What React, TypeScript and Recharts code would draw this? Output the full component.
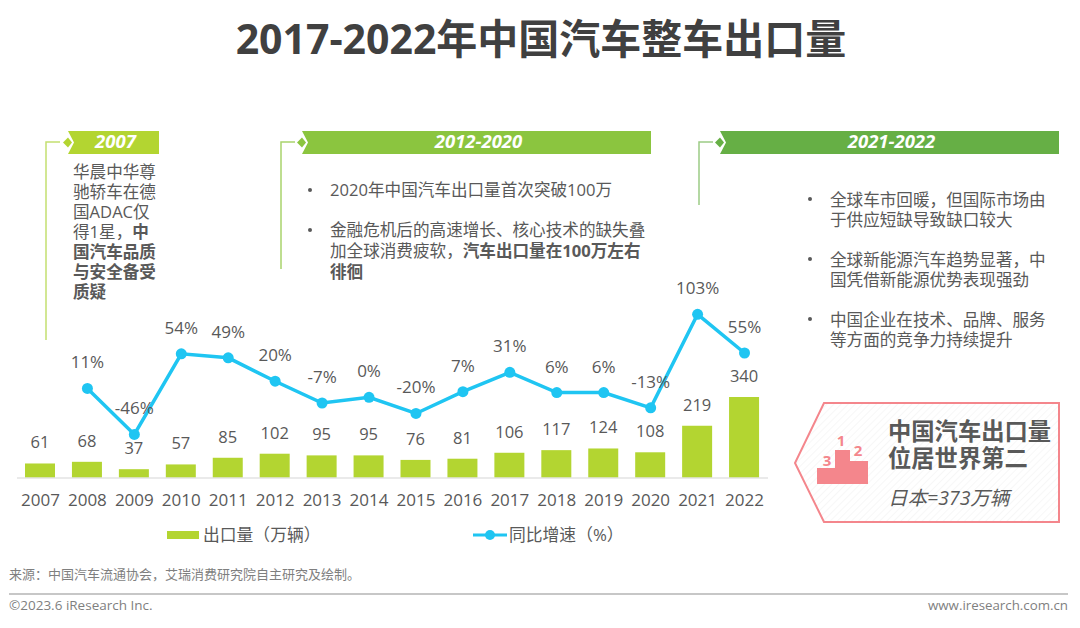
import React from 'react';
import { ComposedChart, Bar, Line, XAxis, YAxis, LabelList } from 'recharts';

const years = ['2007', '2008', '2009', '2010', '2011', '2012', '2013', '2014', '2015', '2016', '2017', '2018', '2019', '2020', '2021', '2022'];
const exportVolume = [61, 68, 37, 57, 85, 102, 95, 95, 76, 81, 106, 117, 124, 108, 219, 340];
const growthRate = [null, 11, -46, 54, 49, 20, -7, 0, -20, 7, 31, 6, 6, -13, 103, 55];

const chartData = years.map((year, i) => ({ year, volume: exportVolume[i], growth: growthRate[i] }));

const FONT = '"Open Sans", "Noto Sans CJK SC", sans-serif';
const TEXT = '#595959';
const BAR = '#B3D531';
const LINE = '#1FC5F2';

function Txt({ x, y, size = 16.6, bold, italic, color = TEXT, right, children }: any) {
  // y is the vertical centre of the line
  const h = Math.round(size * 1.15);
  return (
    <div
      style={{
        position: 'absolute',
        ...(right !== undefined ? { right } : { left: x }),
        top: y - h / 2,
        height: h,
        lineHeight: `${h}px`,
        fontSize: size,
        fontWeight: bold ? 700 : 400,
        fontStyle: italic ? 'italic' : 'normal',
        color,
        whiteSpace: 'nowrap',
      }}
    >
      {children}
    </div>
  );
}

function Banner({ x1, x2, fill, line, lineX, lineEnd, label }: any) {
  return (
    <g>
      <polyline points={`${lineX + 14},142 ${lineX},142 ${lineX},${lineEnd}`} fill="none" stroke={line} strokeWidth={1.5} />
      <polygon points={`${x1},131 ${x2},131 ${x2},154 ${x1},154 ${x1 + 6},142.5`} fill={fill} />
      <polygon points={`${x1 - 5},142.5 ${x1},137.5 ${x1 + 4},142.5 ${x1},147.5`} fill={fill} />
      <text
        x={(x1 + x2) / 2 + 2}
        y={148}
        textAnchor="middle"
        fill="#fff"
        fontSize={18.5}
        fontWeight={700}
        fontStyle="italic"
        fontFamily={FONT}
      >
        {label}
      </text>
    </g>
  );
}

function Bullet({ x, y }: any) {
  return <div style={{ position: 'absolute', left: x - 2, top: y - 2, width: 4, height: 4, borderRadius: 2, background: TEXT }} />;
}

export default function App() {
  return (
    <div style={{ position: 'absolute', left: 0, top: 0, width: 1080, height: 628, background: '#fff', overflow: 'hidden', fontFamily: FONT }}>
      <svg width={1080} height={628} style={{ position: 'absolute', left: 0, top: 0 }}>
        <defs>
          <pattern id="hatch" width="5" height="5" patternUnits="userSpaceOnUse" patternTransform="rotate(-45)">
            <line x1="0" y1="0" x2="5" y2="0" stroke="#f0f0f0" strokeWidth="1" />
          </pattern>
        </defs>
        <Banner x1={68} x2={159} fill="#B3D531" line="#C4E070" lineX={46} lineEnd={340} label="2007" />
        <Banner x1={302} x2={651} fill="#8BC53F" line="#A9D46C" lineX={281} lineEnd={269} label="2012-2020" />
        <Banner x1={720} x2={1059} fill="#66AF45" line="#9CCB85" lineX={699} lineEnd={205} label="2021-2022" />

        <polygon points="824,403 1059,403 1059,522 824,522 795,463" fill="url(#hatch)" stroke="#F4868C" strokeWidth={2} />
        <polygon points="817,484 817,468 835,468 835,450 850,450 850,461 868,461 868,484" fill="#F4868C" />
        <text x={841} y={446} textAnchor="middle" fill="#F4868C" fontSize={15} fontWeight={700} fontFamily={FONT}>1</text>
        <text x={858} y={456} textAnchor="middle" fill="#F4868C" fontSize={15} fontWeight={700} fontFamily={FONT}>2</text>
        <text x={827} y={466} textAnchor="middle" fill="#F4868C" fontSize={15} fontWeight={700} fontFamily={FONT}>3</text>

        <line x1={9} x2={1068} y1={594} y2={594} stroke="#b5b5b5" strokeWidth={1.5} />
      </svg>

      <div style={{ position: 'absolute', left: 1, width: 1080, top: 8, height: 60, lineHeight: '60px', textAlign: 'center', fontSize: 41, fontWeight: 700, color: '#404040' }}>
        2017-2022年中国汽车整车出口量
      </div>

      <Txt x={73} y={171}>华晨中华尊</Txt>
      <Txt x={73} y={191}>驰轿车在德</Txt>
      <Txt x={73} y={211}>国ADAC仅</Txt>
      <Txt x={73} y={231}>得1星，<b>中</b></Txt>
      <Txt x={73} y={251} bold>国汽车品质</Txt>
      <Txt x={73} y={271} bold>与安全备受</Txt>
      <Txt x={73} y={291} bold>质疑</Txt>

      <Bullet x={310} y={190} />
      <Txt x={330} y={189}>2020年中国汽车出口量首次突破100万</Txt>
      <Bullet x={310} y={230} />
      <Txt x={330} y={229}>金融危机后的高速增长、核心技术的缺失叠</Txt>
      <Txt x={330} y={250}>加全球消费疲软，<b>汽车出口量在100万左右</b></Txt>
      <Txt x={330} y={271} bold>徘徊</Txt>

      <Bullet x={810} y={199} />
      <Txt x={830} y={199}>全球车市回暖，但国际市场由</Txt>
      <Txt x={830} y={219}>于供应短缺导致缺口较大</Txt>
      <Bullet x={810} y={259} />
      <Txt x={830} y={259}>全球新能源汽车趋势显著，中</Txt>
      <Txt x={830} y={279}>国凭借新能源优势表现强劲</Txt>
      <Bullet x={810} y={319} />
      <Txt x={830} y={319}>中国企业在技术、品牌、服务</Txt>
      <Txt x={830} y={339}>等方面的竞争力持续提升</Txt>

      <Txt x={888} y={431} size={23.3} bold>中国汽车出口量</Txt>
      <Txt x={888} y={458} size={23.3} bold>位居世界第二</Txt>
      <Txt x={888} y={498} size={19.5} italic>日本=373万辆</Txt>

      <div style={{ position: 'absolute', left: 0, top: 0 }}>
        <ComposedChart
          width={1080}
          height={628}
          data={chartData}
          margin={{ top: 278, right: 312, bottom: 120, left: 17 }}
          style={{ fontFamily: FONT }}
        >
          <XAxis
            dataKey="year"
            interval={0}
            axisLine={{ stroke: '#e3e3e3', strokeWidth: 1.5 }}
            tickLine={false}
            tickMargin={10}
            tick={{ fill: TEXT, fontSize: 17 }}
          />
          <YAxis yAxisId="volume" hide domain={[0, 840]} />
          <YAxis yAxisId="growth" hide domain={[-100, 148]} />
          <Bar yAxisId="volume" dataKey="volume" fill={BAR} barSize={30} isAnimationActive={false}>
            <LabelList dataKey="volume" position="top" offset={15} fill={TEXT} fontSize={16.5} />
          </Bar>
          <Line
            yAxisId="growth"
            dataKey="growth"
            stroke={LINE}
            strokeWidth={3.5}
            dot={{ r: 5.5, fill: LINE, stroke: LINE, strokeWidth: 0 }}
            isAnimationActive={false}
          >
            <LabelList
              dataKey="growth"
              position="top"
              offset={20}
              fill={TEXT}
              fontSize={17}
              formatter={(v: any) => (v === null || v === undefined ? '' : `${v}%`)}
            />
          </Line>
        </ComposedChart>
      </div>

      <div style={{ position: 'absolute', left: 167, top: 531, width: 32, height: 8, background: BAR }} />
      <Txt x={203} y={534} size={16.8}>出口量（万辆）</Txt>
      <svg width={36} height={14} style={{ position: 'absolute', left: 472, top: 528 }}>
        <line x1={1} x2={35} y1={7} y2={7} stroke={LINE} strokeWidth={3} />
        <circle cx={18} cy={7} r={5} fill={LINE} />
      </svg>
      <Txt x={509} y={534} size={16.8}>同比增速（%）</Txt>

      <Txt x={9} y={574} size={13} color="#7f7f7f">来源：中国汽车流通协会，艾瑞消费研究院自主研究及绘制。</Txt>
      <Txt x={9} y={605} size={13.5} color="#7f7f7f">©2023.6 iResearch Inc.</Txt>
      <Txt right={12} y={605} size={13.3} color="#7f7f7f">www.iresearch.com.cn</Txt>
    </div>
  );
}
